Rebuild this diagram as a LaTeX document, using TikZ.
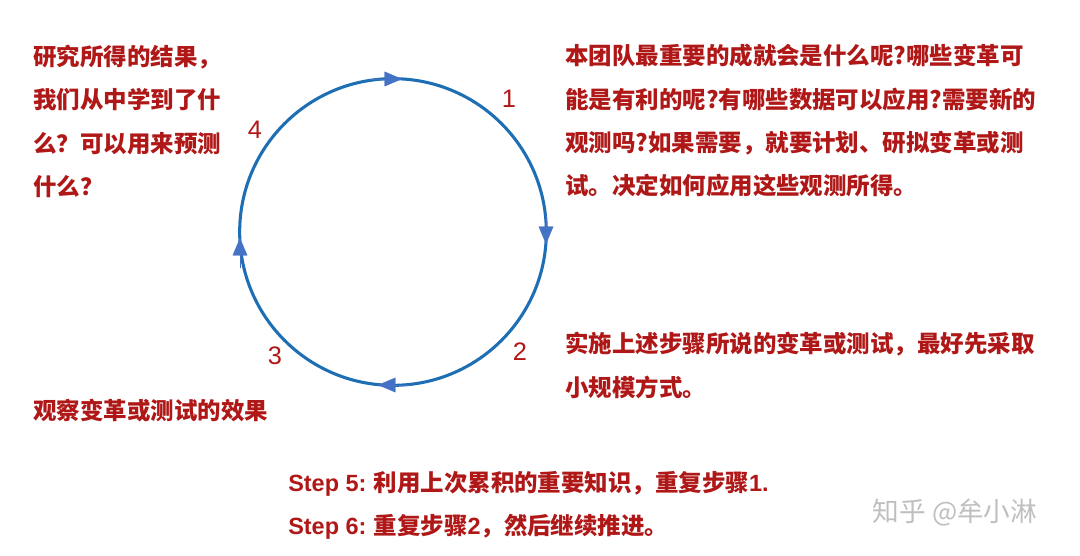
\documentclass[tikz,border=0pt]{standalone}
\usepackage{fontspec}
\setmainfont{Liberation Sans}
\newfontfamily\cjk{Noto Sans CJK SC}
\usetikzlibrary{arrows.meta}
\definecolor{txt}{HTML}{B01818}
\definecolor{ring}{HTML}{1E6EB4}
\definecolor{tip}{HTML}{4472C4}
\begin{document}
\begin{tikzpicture}[x=0.75pt,y=-0.75pt,
  blk/.style={anchor=north west,align=left,text=txt,inner sep=0pt,font=\cjk\bfseries\fontsize{17.6}{32.5}\selectfont},
  num/.style={text=txt,font=\fontsize{19}{22}\selectfont}]
\useasboundingbox[fill=white] (0,0) rectangle (1080,556);
\node[draw=ring,line width=2.3pt,circle,minimum size=230pt,inner sep=0pt] (c) at (393,232) {};
\coordinate (t1) at (370,79); \coordinate (t2) at (402,79);
\draw[tip,-{Triangle[length=13pt,width=11pt]},line width=0.1pt] (t1) -- (t2);
\coordinate (r1) at (546,215); \coordinate (r2) at (546,244);
\draw[tip,-{Triangle[length=13pt,width=11pt]},line width=0.1pt] (r1) -- (r2);
\coordinate (b1) at (410,385); \coordinate (b2) at (378,385);
\draw[tip,-{Triangle[length=13pt,width=11pt]},line width=0.1pt] (b1) -- (b2);
\coordinate (l1) at (240,268); \coordinate (l2) at (240,238);
\draw[tip,-{Triangle[length=13pt,width=11pt]},line width=0.1pt] (l1) -- (l2);
\node[num] (n1) at (509,99) {1};
\node[num] (n2) at (520,352) {2};
\node[num] (n3) at (275,356) {3};
\node[num] (n4) at (255,130) {4};
\node[blk] (a) at (33,45) {研究所得的结果，\\我们从中学到了什\\么？可以用来预测\\什么？};
\node[blk] (b) at (565,44) {本团队最重要的成就会是什么呢?哪些变革可\\能是有利的呢?有哪些数据可以应用?需要新的\\观测吗?如果需要，就要计划、研拟变革或测\\试。决定如何应用这些观测所得。};
\node[blk] (d) at (565,332) {实施上述步骤所说的变革或测试，最好先采取\\小规模方式。};
\node[blk] (e) at (33,399) {观察变革或测试的效果};
\node[blk] (f) at (288,471) {{\rmfamily Step 5:} 利用上次累积的重要知识，重复步骤{\rmfamily 1.}\\{\rmfamily Step 6:} 重复步骤{\rmfamily 2}，然后继续推进。};
\node[text=black!25,font=\cjk\fontsize{20}{22}\selectfont] (w) at (955,513) {知乎 @牟小淋};
\end{tikzpicture}
\end{document}
